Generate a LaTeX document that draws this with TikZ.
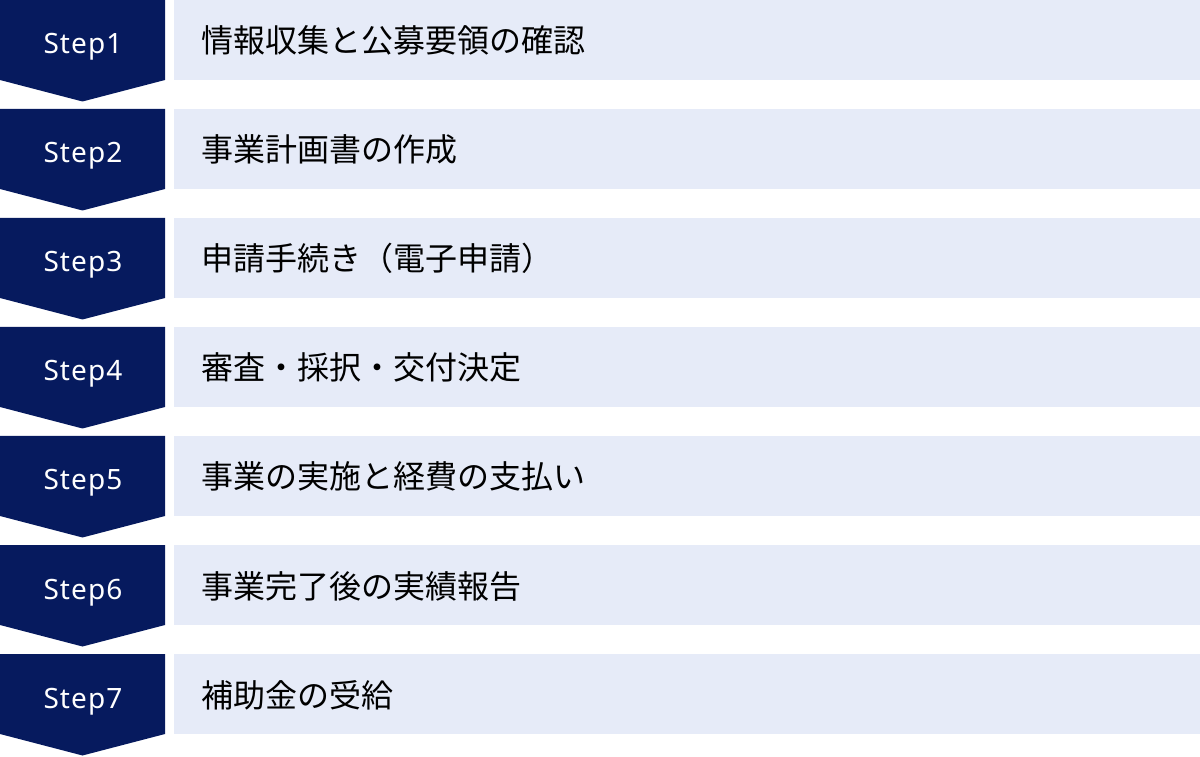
\documentclass[tikz,border=0pt]{standalone}
\usepackage{fontspec}
\setmainfont{Noto Sans}
\newfontfamily\jpfont{Noto Sans CJK JP}
\newfontfamily\stepfont[LetterSpace=4]{Noto Sans}
\definecolor{navy}{HTML}{061A5E}
\definecolor{pale}{HTML}{E6EBF8}
\tikzset{
  chev/.style={fill=navy},
  panel/.style={fill=pale},
  steplabel/.style={text=white, font=\stepfont\fontsize{28}{32}\selectfont, anchor=base, inner sep=0pt},
  tasklabel/.style={text=black, font=\jpfont\fontsize{32}{36}\selectfont, anchor=base west, inner sep=0pt}
}
\begin{document}
\begin{tikzpicture}[x=1pt,y=1pt]
\useasboundingbox (0,0) rectangle (1200,756);
\foreach \i/\t in {1/情報収集と公募要領の確認,2/事業計画書の作成,3/申請手続き（電子申請）,4/審査・採択・交付決定,5/事業の実施と経費の支払い,6/事業完了後の実績報告,7/補助金の受給}{
  \pgfmathsetmacro{\top}{756-109*(\i-1)}
  \fill[chev] (0,\top) -- (165,\top) -- (165,\top-80) -- (82.5,\top-101.5) -- (0,\top-80) -- cycle;
  \fill[panel] (174,\top) rectangle (1200,\top-80);
  \node[steplabel] (s\i) at (83,\top-54) {Step\i};
  \node[tasklabel] (t\i) at (201,\top-53) {\t};
}
\end{tikzpicture}
\end{document}
